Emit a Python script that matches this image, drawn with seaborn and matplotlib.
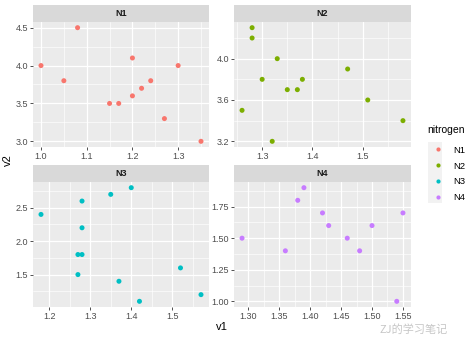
import numpy as np
import pandas as pd
import matplotlib
matplotlib.use("Agg")
import matplotlib.pyplot as plt
import seaborn as sns
from matplotlib.ticker import MultipleLocator, AutoMinorLocator, FormatStrFormatter
from matplotlib.lines import Line2D
from matplotlib.patches import Rectangle

groups = ["N1", "N2", "N3", "N4"]
colors = ["#F8766D", "#7CAE00", "#00BFC4", "#C77CFF"]

n1_v1 = [1.00, 1.05, 1.08, 1.15, 1.17, 1.20, 1.20, 1.22, 1.24, 1.27, 1.30, 1.35]
n1_v2 = [4.0, 3.8, 4.5, 3.5, 3.5, 4.1, 3.6, 3.7, 3.8, 3.3, 4.0, 3.0]
n2_v1 = [1.28, 1.28, 1.33, 1.30, 1.35, 1.37, 1.38, 1.47, 1.51, 1.26, 1.58, 1.32]
n2_v2 = [4.3, 4.2, 4.0, 3.8, 3.7, 3.7, 3.8, 3.9, 3.6, 3.5, 3.4, 3.2]
n3_v1 = [1.18, 1.28, 1.35, 1.40, 1.28, 1.27, 1.28, 1.27, 1.37, 1.42, 1.52, 1.57]
n3_v2 = [2.4, 2.6, 2.7, 2.8, 2.2, 1.8, 1.8, 1.5, 1.4, 1.1, 1.6, 1.2]
n4_v1 = [1.29, 1.36, 1.38, 1.39, 1.42, 1.43, 1.46, 1.48, 1.50, 1.54, 1.55]
n4_v2 = [1.5, 1.4, 1.8, 1.9, 1.7, 1.6, 1.5, 1.4, 1.6, 1.0, 1.7]

frames = []
for g, xs, ys in [("N1", n1_v1, n1_v2), ("N2", n2_v1, n2_v2),
                  ("N3", n3_v1, n3_v2), ("N4", n4_v1, n4_v2)]:
    frames.append(pd.DataFrame({"v1": xs, "v2": ys, "nitrogen": g}))
df = pd.concat(frames, ignore_index=True)

sns.set_style("white")
plt.rcParams["font.family"] = ["Liberation Sans", "DejaVu Sans"]

W, H = 474, 338
fig = plt.figure(figsize=(W / 100, H / 100), dpi=100)
fig.patch.set_facecolor("white")

def rect(l, t, r, b):
    return [l / W, 1 - b / H, (r - l) / W, (b - t) / H]

panels = {
    "N1": (33, 22, 209, 147),
    "N2": (234, 22, 411, 147),
    "N3": (33, 182, 209, 307),
    "N4": (234, 182, 411, 307),
}
steps = {"N1": (0.1, 0.5, "%.1f", "%.1f"),
         "N2": (0.1, 0.4, "%.1f", "%.1f"),
         "N3": (0.1, 0.5, "%.1f", "%.1f"),
         "N4": (0.05, 0.25, "%.2f", "%.2f")}
palette = dict(zip(groups, colors))

for g in groups:
    l, t, r, b = panels[g]
    ax = fig.add_axes(rect(l, t, r, b))
    sub = df[df["nitrogen"] == g]
    ax.set_facecolor("#EBEBEB")
    sns.scatterplot(data=sub, x="v1", y="v2", hue="nitrogen", palette=palette,
                    s=13, linewidth=0, ax=ax, legend=False, zorder=3)
    xmin, xmax = sub["v1"].min(), sub["v1"].max()
    ymin, ymax = sub["v2"].min(), sub["v2"].max()
    ex, ey = (xmax - xmin) * 0.05, (ymax - ymin) * 0.05
    ax.set_xlim(xmin - ex, xmax + ex)
    ax.set_ylim(ymin - ey, ymax + ey)
    sx, sy, fx, fy = steps[g]
    ax.xaxis.set_major_locator(MultipleLocator(sx))
    ax.yaxis.set_major_locator(MultipleLocator(sy))
    ax.xaxis.set_minor_locator(AutoMinorLocator(2))
    ax.yaxis.set_minor_locator(AutoMinorLocator(2))
    ax.xaxis.set_major_formatter(FormatStrFormatter(fx))
    ax.yaxis.set_major_formatter(FormatStrFormatter(fy))
    ax.grid(True, which="major", color="white", linewidth=0.9)
    ax.grid(True, which="minor", color="white", linewidth=0.45)
    ax.set_axisbelow(True)
    for s in ax.spines.values():
        s.set_visible(False)
    ax.tick_params(which="major", length=2.2, width=0.6, color="#333333",
                   labelsize=6.5, labelcolor="#4D4D4D", pad=1.5,
                   bottom=True, left=True)
    ax.tick_params(which="minor", length=0)
    ax.set_xlabel("")
    ax.set_ylabel("")
    # strip
    sax = fig.add_axes(rect(l, t - 17, r, t))
    sax.set_facecolor("#D9D9D9")
    sax.set_xticks([]); sax.set_yticks([])
    for s in sax.spines.values():
        s.set_visible(False)
    sax.text(0.5, 0.48, g, ha="center", va="center", fontsize=6.5,
             fontweight="bold", color="#1A1A1A", transform=sax.transAxes)

fig.text(222 / W, 1 - 327 / H, "v1", ha="center", va="center", fontsize=8, color="black")
fig.text(8 / W, 1 - 160 / H, "v2", ha="center", va="center", rotation=90, fontsize=8, color="black")

# legend
fig.text(427 / W, 1 - 130 / H, "nitrogen", ha="left", va="center", fontsize=7.5, color="black")
fig.patches.append(Rectangle((428 / W, 1 - 203 / H), 14 / W, 61 / H,
                             transform=fig.transFigure, facecolor="#F2F2F2",
                             edgecolor="none", zorder=0))
handles = [Line2D([0], [0], marker="o", linestyle="", markersize=3.0,
                  markerfacecolor=c, markeredgewidth=0) for c in colors]
fig.legend(handles, groups, loc="upper left", bbox_to_anchor=(428 / W, 1 - 141 / H),
           frameon=False, fontsize=6.8, handlelength=1.2, handletextpad=1.0,
           labelspacing=0.72, borderpad=0, labelcolor="black")

# watermark
fig.text(380 / W, 1 - 329 / H, "ZJ的学习笔记", ha="left", va="center",
         fontsize=8, color="#BDBDBD", alpha=0.85,
         family=["Noto Sans CJK SC", "DejaVu Sans"])

fig.savefig("out.png", dpi=100)
